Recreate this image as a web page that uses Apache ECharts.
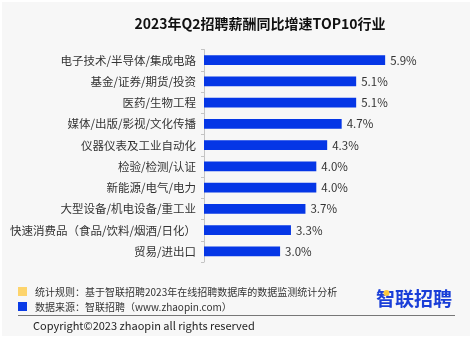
<!DOCTYPE html>
<html><head><meta charset="utf-8">
<script src="https://cdn.jsdelivr.net/npm/echarts@6/dist/echarts.min.js"></script>
<style>html,body{margin:0;padding:0;background:#fff}#c{width:474px;height:340px}</style>
</head><body><div id="c"></div>
<script>
var categories = ['电子技术/半导体/集成电路','基金/证券/期货/投资','医药/生物工程','媒体/出版/影视/文化传播','仪器仪表及工业自动化','检验/检测/认证','新能源/电气/电力','大型设备/机电设备/重工业','快速消费品（食品/饮料/烟酒/日化）','贸易/进出口'];
var values = [5.9, 5.1, 5.1, 4.7, 4.3, 4.0, 4.0, 3.7, 3.3, 3.0];
var titleText = '2023年Q2招聘薪酬同比增速TOP10行业';
var noteRule = '统计规则：基于智联招聘2023年在线招聘数据库的数据监测统计分析';
var noteSource = '数据来源：智联招聘（www.zhaopin.com）';
var copyright = 'Copyright©2023 zhaopin all rights reserved';
var logoText = '智联招聘';

var FONT = '"Noto Sans CJK SC","Noto Sans",sans-serif';
var chart = echarts.init(document.getElementById('c'), null, {renderer:'canvas'});
chart.setOption({
  backgroundColor: '#ffffff',
  animation: false,
  textStyle: {fontFamily: FONT},
  title: {text: titleText, left: 255, textAlign: 'center', top: 12,
    textStyle: {fontSize: 14, fontWeight: 'bold', color: '#111', fontFamily: FONT}},
  grid: {left: 204, top: 49.5, width: 221, height: 212.5, containLabel: false},
  xAxis: {type: 'value', min: 0.9, max: 7, show: false},
  yAxis: {type: 'category', data: categories, inverse: true,
    axisLine: {show: true, lineStyle: {color: '#c4c4c4', width: 1}},
    axisTick: {show: true, length: 3, lineStyle: {color: '#c4c4c4'}},
    axisLabel: {fontSize: 11.5, color: '#333', margin: 8, fontFamily: FONT}},
  series: [{type: 'bar', data: values, barWidth: '45%',
    itemStyle: {color: '#0536e6'},
    label: {show: true, position: 'right', distance: 5, fontSize: 11.5, color: '#333', fontFamily: FONT,
      formatter: function(p){return p.value.toFixed(1) + '%';}}}],
  graphic: [
    {type: 'rect', z: -10, shape: {x: 2, y: 2, width: 468, height: 334}, style: {fill: '#f7f7f7'}, silent: true},
    {type: 'rect', shape: {x: 18, y: 287, width: 9, height: 9}, style: {fill: '#fdd46c'}},
    {type: 'rect', shape: {x: 18, y: 302, width: 9, height: 9}, style: {fill: '#0a3be6'}},
    {type: 'text', x: 35, y: 292, style: {text: noteRule, fontSize: 10, fill: '#333', verticalAlign: 'middle', fontFamily: FONT}},
    {type: 'text', x: 35, y: 307, style: {text: noteSource, fontSize: 10, fill: '#333', verticalAlign: 'middle', fontFamily: FONT}},
    {type: 'line', shape: {x1: 18, y1: 315.5, x2: 455, y2: 315.5}, style: {stroke: '#777', lineWidth: 1}},
    {type: 'text', x: 33, y: 326, style: {text: copyright, fontSize: 11, fill: '#222', verticalAlign: 'middle', fontFamily: FONT}},
    {type: 'text', x: 376, y: 299, style: {text: logoText, fontSize: 19, fontWeight: 'bold', fill: '#1a3ed8', verticalAlign: 'middle', fontFamily: FONT}},
    {type: 'circle', shape: {cx: 386.5, cy: 293, r: 3}, style: {fill: '#fdc83c'}}
  ]
});
</script></body></html>
